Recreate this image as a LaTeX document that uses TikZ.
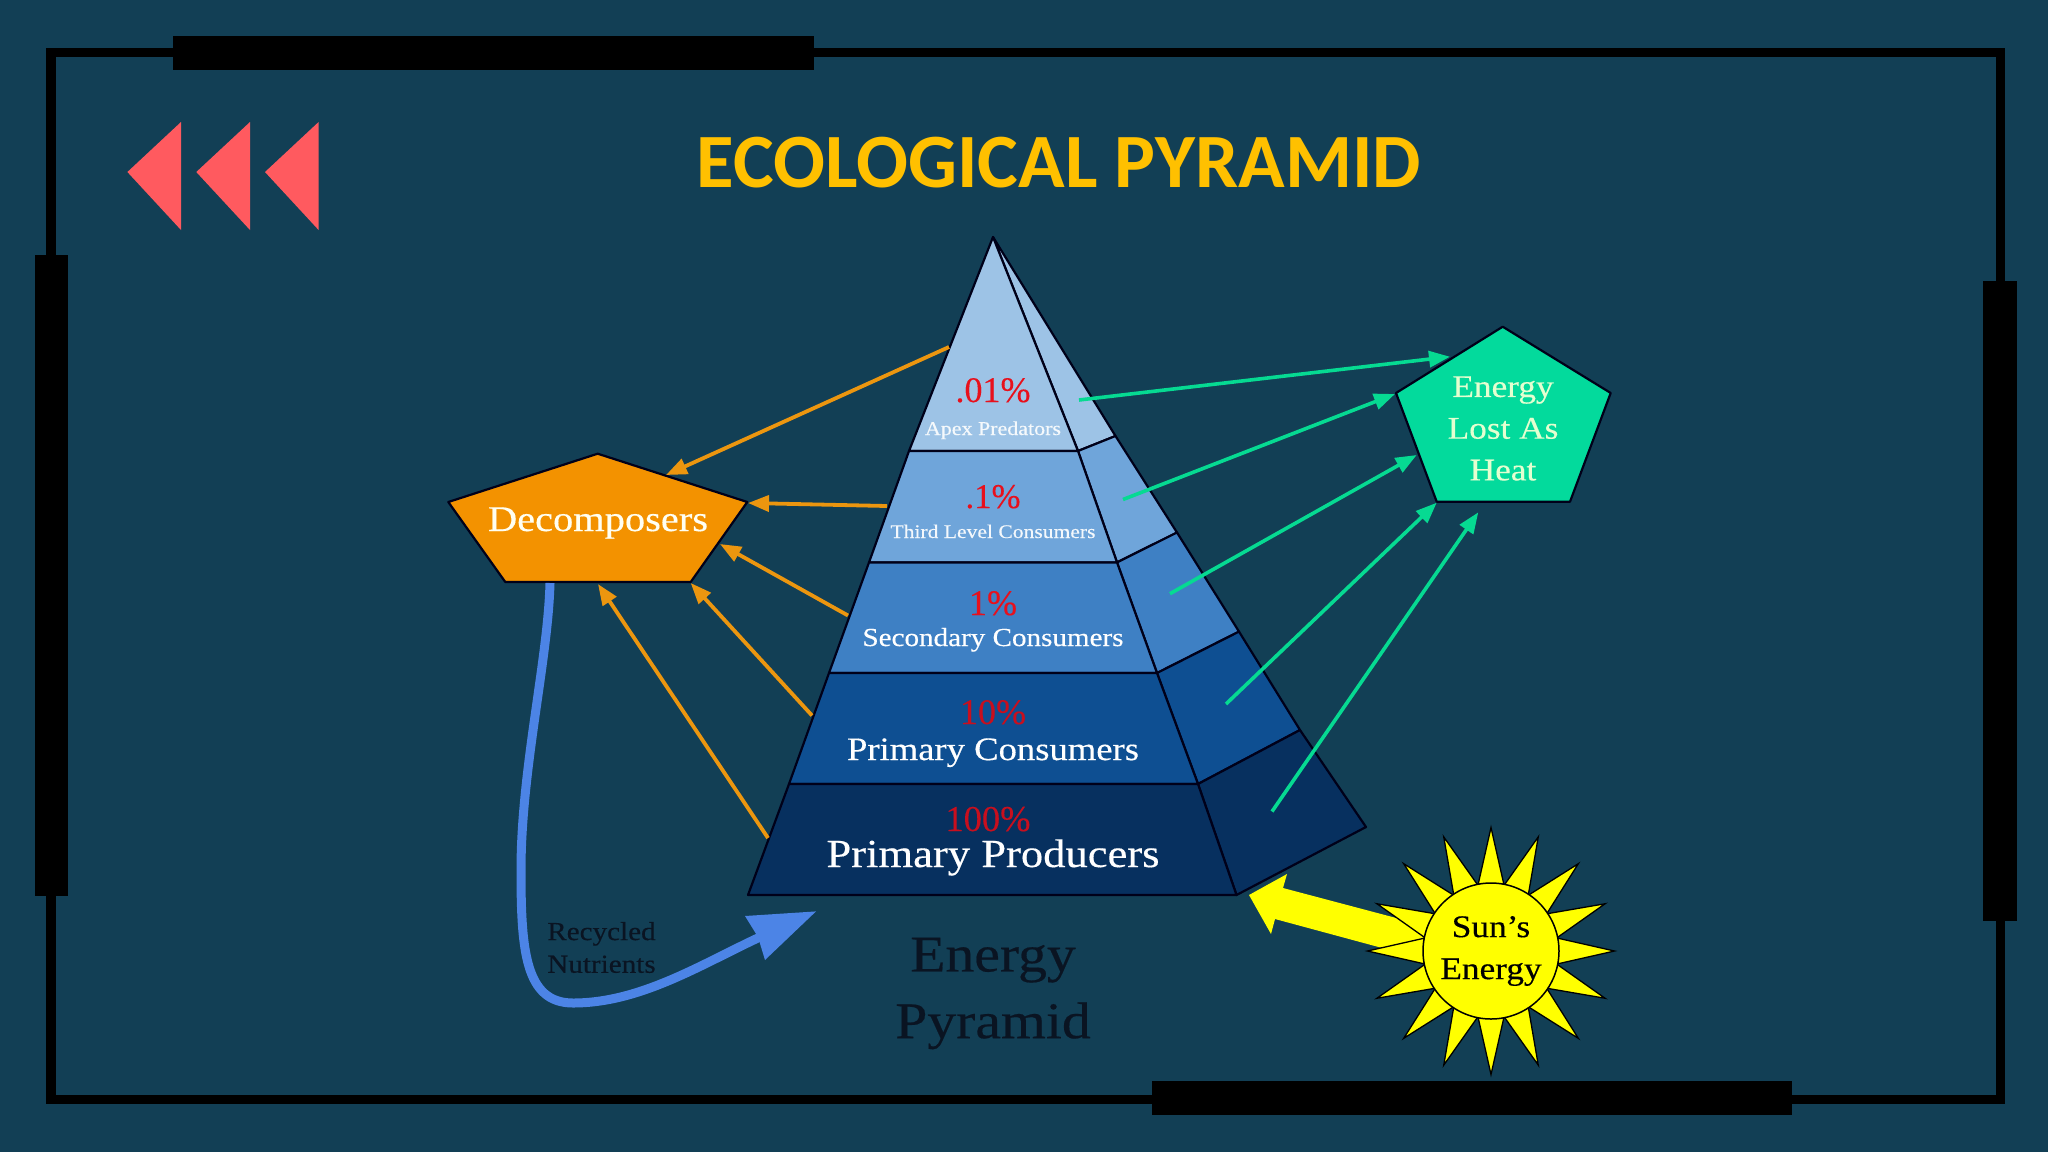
\documentclass[tikz,border=0pt]{standalone}
\usepackage{fontspec}
\usetikzlibrary{arrows.meta}
\setmainfont{Liberation Serif}[FakeStretch=1.12,FakeBold=0.35]
\newfontfamily\pctfont{Liberation Serif}[FakeBold=0.25]
\newfontfamily\titlefont{Carlito}
\newcommand{\wbox}[2]{\resizebox{#1pt}{!}{#2}}
\definecolor{bgc}{HTML}{123F55}
\definecolor{lvA}{HTML}{9DC3E6}
\definecolor{lvB}{HTML}{6FA5DA}
\definecolor{lvC}{HTML}{3E80C4}
\definecolor{lvD}{HTML}{0E4F92}
\definecolor{lvE}{HTML}{07305F}
\definecolor{orangec}{HTML}{F39200}
\definecolor{linkorange}{HTML}{EC960F}
\definecolor{greenc}{HTML}{03DA9C}
\definecolor{linkgreen}{HTML}{06DA92}
\definecolor{bluec}{HTML}{4C84E6}
\definecolor{coral}{HTML}{FF5A5F}
\definecolor{gold}{HTML}{FFC000}
\definecolor{pctA}{HTML}{E8101C}
\definecolor{pctB}{HTML}{C80F1E}
\definecolor{paletxt}{HTML}{E4FFD0}
\definecolor{inktxt}{HTML}{0A1422}
\definecolor{sunyel}{HTML}{FFFF00}
\tikzset{
  face/.style={draw=black!90!blue,line width=2.2pt,line join=round},
  barpart/.style={fill=black},
  chev/.style={fill=coral},
  lbl/.style={anchor=base,inner sep=0pt,text=white},
  pct/.style={anchor=base,inner sep=0pt},
  orangelink/.style={draw=linkorange,line width=3.8pt,-{Triangle[length=21pt,width=16pt]},shorten >=0pt},
  greenlink/.style={draw=linkgreen,line width=3.6pt,-{Triangle[length=21pt,width=16pt]}},
  ray/.style={fill=sunyel,draw=black,line width=1.3pt,line join=miter},
}
\begin{document}
\begin{tikzpicture}[x=1pt,y=-1pt]
\useasboundingbox (0,0) rectangle (2048,1152);
\fill[bgc] (0,0) rectangle (2048,1152);
% frame
\draw[black,line width=9.6pt] (51,52.4) rectangle (2000.4,1099.5);
\fill[barpart] (173,36) rectangle (814,70);
\fill[barpart] (34.5,255) rectangle (68,896);
\fill[barpart] (1983,281) rectangle (2017,921);
\fill[barpart] (1152,1081) rectangle (1792,1115);
% chevrons
\fill[chev] (127.4,172) -- (181,122) -- (181,230) -- cycle;
\fill[chev] (196.3,172) -- (250,122) -- (250,230) -- cycle;
\fill[chev] (265,172) -- (318.6,122) -- (318.6,230) -- cycle;
% title
\node[anchor=base,inner sep=0pt,text=gold] (title) at (1059,187.3) {\wbox{724}{\titlefont\bfseries ECOLOGICAL PYRAMID}};
% pyramid coordinates
\coordinate (apex) at (993,237);
\coordinate (aL) at (909,451);  \coordinate (aR) at (1078,451);  \coordinate (aB) at (1115.5,436);
\coordinate (bL) at (869,562.4);\coordinate (bR) at (1117,562.4);\coordinate (bB) at (1177,532.5);
\coordinate (cL) at (829,673);  \coordinate (cR) at (1157,673);  \coordinate (cB) at (1239,631.6);
\coordinate (dL) at (789,784);  \coordinate (dR) at (1198,784);  \coordinate (dB) at (1300,730);
\coordinate (eL) at (748,895);  \coordinate (eR) at (1236.5,895);\coordinate (eB) at (1366,827);
\path[face,fill=lvA] (apex) -- (aB) -- (aR) -- cycle;
\path[face,fill=lvB] (aR) -- (aB) -- (bB) -- (bR) -- cycle;
\path[face,fill=lvC] (bR) -- (bB) -- (cB) -- (cR) -- cycle;
\path[face,fill=lvD] (cR) -- (cB) -- (dB) -- (dR) -- cycle;
\path[face,fill=lvE] (dR) -- (dB) -- (eB) -- (eR) -- cycle;
\path[face,fill=lvA] (apex) -- (aR) -- (aL) -- cycle;
\path[face,fill=lvB] (aL) -- (aR) -- (bR) -- (bL) -- cycle;
\path[face,fill=lvC] (bL) -- (bR) -- (cR) -- (cL) -- cycle;
\path[face,fill=lvD] (cL) -- (cR) -- (dR) -- (dL) -- cycle;
\path[face,fill=lvE] (dL) -- (dR) -- (eR) -- (eL) -- cycle;
% pyramid labels
\node[pct,text=pctA] (p1) at (993,402) {\wbox{75}{\pctfont .01\%}};
\node[lbl,text=white!90!lvA] (n1) at (993,435) {\wbox{136}{Apex Predators}};
\node[pct,text=pctA] (p2) at (993,508) {\wbox{55}{\pctfont .1\%}};
\node[lbl,text=white!92!lvB] (n2) at (993,538) {\wbox{205}{Third Level Consumers}};
\node[pct,text=pctA] (p3) at (993,615) {\wbox{48}{\pctfont 1\%}};
\node[lbl] (n3) at (993,646) {\wbox{261}{Secondary Consumers}};
\node[pct,text=pctB] (p4) at (993,724) {\wbox{66}{\pctfont 10\%}};
\node[lbl] (n4) at (993,760) {\wbox{292}{Primary Consumers}};
\node[pct,text=pctB] (p5) at (988,831) {\wbox{85}{\pctfont 100\%}};
\node[lbl] (n5) at (993,867) {\wbox{333}{Primary Producers}};
% decomposers
\coordinate (dcA) at (597.7,453.7);\coordinate (dcB) at (747.3,502);\coordinate (dcC) at (690.7,582);\coordinate (dcD) at (505.3,582);\coordinate (dcE) at (448.3,502);
\path[face,fill=orangec] (dcA) -- (dcB) -- (dcC) -- (dcD) -- (dcE) -- cycle;
\node[lbl,text=white!95!sunyel] (decomp) at (598,531) {\wbox{220}{Decomposers}};
% heat
\coordinate (htA) at (1502.7,326.7);\coordinate (htB) at (1610.7,393);\coordinate (htC) at (1570,501.7);\coordinate (htD) at (1436.7,501.7);\coordinate (htE) at (1396,393);
\path[face,fill=greenc] (htA) -- (htB) -- (htC) -- (htD) -- (htE) -- cycle;
\node[inner sep=0pt,text=paletxt,align=center,font=\fontsize{31.5}{41.7}\selectfont] (heat) at (1503,428.5) {Energy\\Lost As\\Heat};
% orange links
\coordinate (oa) at (949,347); \coordinate (ob) at (887,506); \coordinate (oc) at (848,615.5); \coordinate (od) at (812,715.5); \coordinate (oe) at (768,838);
\coordinate (ta) at (666,475); \coordinate (tb) at (748,503); \coordinate (tc) at (720,544); \coordinate (td) at (690.7,583); \coordinate (te) at (598,584);
\draw[orangelink] (oa) -- (ta);
\draw[orangelink] (ob) -- (tb);
\draw[orangelink] (oc) -- (tc);
\draw[orangelink] (od) -- (td);
\draw[orangelink] (oe) -- (te);
% green links
\coordinate (ga) at (1079,400); \coordinate (gb) at (1123,499.5); \coordinate (gc) at (1170,593.7); \coordinate (gd) at (1226,704); \coordinate (ge) at (1272,811.5);
\coordinate (ha) at (1450,356.7); \coordinate (hb) at (1395,394); \coordinate (hc) at (1416.7,455); \coordinate (hd) at (1436.7,502.7); \coordinate (he) at (1478.3,512.3);
\draw[greenlink] (ga) -- (ha);
\draw[greenlink] (gb) -- (hb);
\draw[greenlink] (gc) -- (hc);
\draw[greenlink] (gd) -- (hd);
\draw[greenlink] (ge) -- (he);
% recycled nutrients
\coordinate (rcS) at (550,583); \coordinate (rcT) at (760,937);
\draw[bluec,line width=9pt] (rcS) .. controls (548,660) and (521,770) .. (521,870) .. controls (521,950) and (525,1003) .. (573,1003) .. controls (640,1003) and (700,965) .. (rcT);
\fill[bluec] (816,911.4) -- (745,916) -- (758,937) -- (765,960) -- cycle;
\node[inner sep=0pt,text=inktxt,align=center,font=\fontsize{26}{32.7}\selectfont] (recyc) at (601.5,947.5) {Recycled\\Nutrients};
\node[inner sep=0pt,text=inktxt,align=center,font=\fontsize{51.5}{66.7}\selectfont] (epy) at (993,993.5) {Energy\\Pyramid};
% sun
\fill[sunyel] (1249,895) -- (1287,874) -- (1283,888) -- (1440,929.6) -- (1440,963.6) -- (1275,919) -- (1271,934) -- cycle;
\foreach \a in {0,22.5,...,337.5}
  \draw[ray] ([shift={(\a-11.25:67)}]1491,951) -- ([shift={(\a:123.5)}]1491,951) -- ([shift={(\a+11.25:67)}]1491,951) -- cycle;
\node[circle,draw=black,line width=1.5pt,fill=sunyel,minimum size=136pt,inner sep=0pt,text=black,align=center,font=\fontsize{31.5}{42}\selectfont] (sun) at (1491,951) {Sun’s\\Energy};
\end{tikzpicture}
\end{document}
